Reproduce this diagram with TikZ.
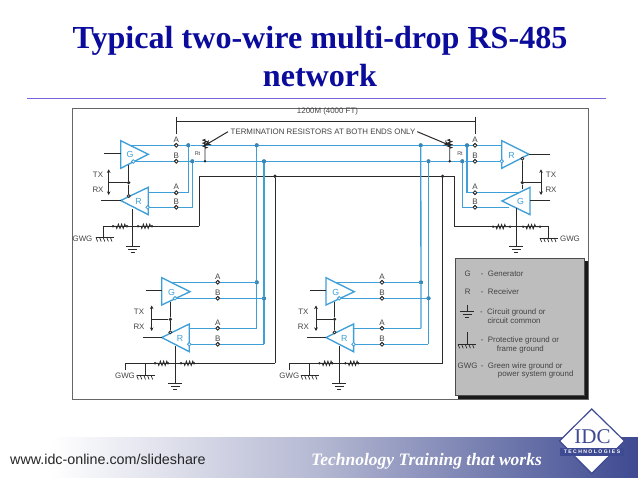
\documentclass[tikz,border=0pt]{standalone}
\usepackage{fontspec}
\setmainfont{Liberation Sans}
\newfontfamily\tms{Liberation Serif}
\usetikzlibrary{arrows.meta}
\definecolor{wireblue}{HTML}{3F9FD8}
\definecolor{wireblack}{HTML}{2A2A2A}
\definecolor{txtgrey}{HTML}{444444}
\definecolor{titleblue}{HTML}{0B0B9C}
\definecolor{rulepurple}{HTML}{7B62E0}
\definecolor{footmid}{HTML}{B4B8D2}
\definecolor{footdark}{HTML}{3E4A91}
\definecolor{legendgrey}{HTML}{BDBDBD}
\pgfdeclarehorizontalshading{footshade}{100bp}{color(0bp)=(white); color(29bp)=(white); color(50bp)=(footmid); color(75bp)=(footdark); color(100bp)=(footdark)}
\tikzset{
  blue wire/.style={draw=wireblue,line width=1.35pt},
  black wire/.style={draw=wireblack,line width=1pt},
  amp/.style={draw=wireblue,line width=1.35pt,line join=miter},
  term/.style={circle,draw=wireblack,fill=white,line width=0.8pt,inner sep=0pt,minimum size=3.6pt},
  pin/.style={circle,draw=wireblue,fill=white,line width=0.8pt,inner sep=0pt,minimum size=3.6pt},
  pinb/.style={circle,draw=wireblack,fill=white,line width=0.8pt,inner sep=0pt,minimum size=3pt},
  bdot/.style={circle,fill=wireblue!85!black,inner sep=0pt,minimum size=4pt},
  kdot/.style={circle,fill=wireblack,inner sep=0pt,minimum size=3.6pt},
  lbl/.style={text=txtgrey,font=\fontsize{7.9}{8}\selectfont,inner sep=0pt},
  lblw/.style={lbl,anchor=west},
  amptxt/.style={text=wireblue,font=\fontsize{8.8}{9}\selectfont,inner sep=0pt},
  dbl/.style={black wire,{Stealth[length=3.6pt,width=3.6pt]}-{Stealth[length=3.6pt,width=3.6pt]}},
  lead/.style={black wire,-{Stealth[length=6pt,width=5.5pt]}},
}
\newcommand{\earth}[1]{%
  \draw[black wire] ([xshift=-7pt]#1) -- ([xshift=7pt]#1);
  \draw[black wire] ([xshift=-4.5pt,yshift=-3pt]#1) -- ([xshift=4.5pt,yshift=-3pt]#1);
  \draw[black wire] ([xshift=-2pt,yshift=-6pt]#1) -- ([xshift=2pt,yshift=-6pt]#1);}
\newcommand{\comb}[1]{%
  \draw[black wire,line width=.8pt] ([xshift=0pt]#1) -- ([xshift=18pt]#1);
  \foreach \k in {0,3.6,...,18}{\draw[black wire,line width=.7pt] ([xshift=\k pt]#1) -- ([xshift=\k pt+1.6pt,yshift=-4pt]#1);}}
\newcommand{\hres}[2]{%
  \node[kdot,minimum size=2.6pt] at (#1) {};\node[kdot,minimum size=2.6pt] at (#2) {};
  \draw[black wire,line width=.8pt] (#1) -- ([xshift=3pt]#1) -- ++(0.8,2.2) -- ++(1.6,-4.4) -- ++(1.6,4.4) -- ++(1.6,-4.4) -- ++(1.6,4.4) -- ++(1.6,-4.4) -- ++(0.8,2.2) -- (#2);}
\newcommand{\vres}[2]{%
  \node[kdot,minimum size=2.8pt] at (#1) {};\node[kdot,minimum size=2.8pt] at (#2) {};
  \draw[black wire,line width=.8pt] (#1) -- ([yshift=-3pt]#1) -- ++(2.2,-.7) -- ++(-4.4,-1.5) -- ++(4.4,-1.5) -- ++(-4.4,-1.5) -- ++(4.4,-1.5) -- ++(-4.4,-1.5) -- ++(2.2,-.7) -- (#2);}
\begin{document}
\begin{tikzpicture}[x=1pt,y=-1pt]
\useasboundingbox (0,0) rectangle (638,478);
\fill[white] (0,0) rectangle (638,478);
\shade[shading=footshade] (0,438) rectangle (638,478);
\node[text=titleblue,font=\tms\bfseries\fontsize{32.1}{38}\selectfont,align=center,inner sep=0pt] (title) at (320,57) {Typical two-wire multi-drop RS-485\\network};
\coordinate (ruleL) at (27,98.3); \coordinate (ruleR) at (606,98.3);
\draw[rulepurple,line width=1.1pt] (ruleL) -- (ruleR);
\draw[draw=black!60,line width=1pt,fill=white] (72.3,108.3) rectangle (588,400);
\node[anchor=west,text=black!85,font=\fontsize{14.3}{16}\selectfont,inner sep=0pt] (url) at (10,459) {www.idc-online.com/slideshare};
\node[anchor=west,text=white,font=\tms\bfseries\itshape\fontsize{17.5}{20}\selectfont,inner sep=0pt] (slogan) at (311,461) {Technology Training that works};
\draw[draw=footdark,line width=1.2pt,fill=white] (591.7,409) -- (624.5,441) -- (591.7,473.5) -- (559.5,441) -- cycle;
\fill[footdark] (560,448) rectangle (624,456.5);
\node[text=footdark,font=\tms\fontsize{21}{21}\selectfont,inner sep=0pt] (idc) at (592.5,437) {IDC};
\node[text=white,font=\bfseries\fontsize{5.1}{6}\selectfont,inner sep=0pt] (tech) at (592,452.2) {T E C H N O L O G I E S};
\node[term] (tA1) at (176.3,145.3) {};
\node[term] (tB1) at (176.3,161.3) {};
\node[term] (tA2) at (176.3,192.7) {};
\node[term] (tB2) at (176.3,207.3) {};
\node[term] (tA3) at (475,145.3) {};
\node[term] (tB3) at (475,161.3) {};
\node[term] (tA4) at (475,192.7) {};
\node[term] (tB4) at (475,207.3) {};
\coordinate (spanL) at (176.3,122); \coordinate (spanR) at (475,122);
\coordinate (spanLt) at (176.3,116.7); \coordinate (spanRt) at (475,116.7);
\coordinate (spanLb) at (176.3,134); \coordinate (spanRb) at (475,134);
\draw[black wire] (spanLt) -- (spanLb);
\draw[black wire] (spanRt) -- (spanRb);
\draw[black wire] (spanL) -- (spanR);
\node[lbl] (span) at (327.5,111) {1200M (4000 FT)};
\node[lbl] (term) at (323,132) {TERMINATION RESISTORS AT BOTH ENDS ONLY};
\coordinate (G1a) at (120.7,140.7); \coordinate (G1b) at (120.7,168.3); \coordinate (G1t) at (148.3,154.3);
\coordinate (R1a) at (148.3,187.3); \coordinate (R1b) at (148.3,214.7); \coordinate (R1t) at (120.7,200.5);
\coordinate (R2a) at (501.7,140.7); \coordinate (R2b) at (501.7,168.3); \coordinate (R2t) at (529,154.3);
\coordinate (G2a) at (530,187.3); \coordinate (G2b) at (530,214.7); \coordinate (G2t) at (502,201);
\node[bdot] (A1) at (188.3,145.3) {}; \node[bdot] (B1) at (192.3,161.3) {};
\node[bdot] (A2) at (256.7,145.3) {}; \node[bdot] (B2) at (264,161.3) {};
\node[bdot] (A3) at (420.7,145.3) {}; \node[bdot] (B3) at (428.5,161.3) {};
\node[bdot] (A4) at (467,145.3) {}; \node[bdot] (B4) at (462.3,161.3) {};
\node[bdot] (A5) at (256.7,282.3) {}; \node[bdot] (B5) at (264,298.3) {};
\node[bdot] (A6) at (421,282.3) {}; \node[bdot] (B6) at (428.5,298.3) {};
\coordinate (A5e) at (256.7,328.3); \coordinate (B5e) at (264,344.3);
\coordinate (A6e) at (421,328.3); \coordinate (B6e) at (428.5,344.3);
\coordinate (gL) at (199,176.3); \coordinate (gLb) at (199,226.3);
\coordinate (gR) at (454.3,176.3); \coordinate (gRb) at (454.3,226.7);
\node[kdot] (g1) at (275,176.3) {}; \node[kdot] (g2) at (442.5,176.3) {};
\coordinate (g1b) at (275,363.3); \coordinate (g2b) at (442.5,363.3);
\draw[black wire] (g1) -- (g1b);
\draw[black wire] (g2) -- (g2b);
\draw[black wire] (gLb) -- (gL) -- (gR) -- (gRb);
\draw[blue wire] (130,145.3) -- (tA1) -- (A1) -- (A2) -- (A3) -- (A4) -- (tA3) -- (501.7,145.3);
\draw[blue wire] (133.3,161.3) -- (tB1) -- (B1) -- (B2) -- (B3) -- (B4) -- (tB3) -- (501.7,161.3);
\draw[blue wire] (A1) |- (tA2) -- (148.3,192.7);
\draw[blue wire] (B1) |- (tB2) -- (148,207.3);
\draw[blue wire] (A4) |- (tA4) -- (520,192.7);
\draw[blue wire] (B4) |- (tB4) -- (509,207.3);
\draw[blue wire] (A2) -- (A5) -- (A5e);
\draw[blue wire] (B2) -- (B5) -- (B5e);
\draw[blue wire] (A3) -- (A6) -- (A6e);
\draw[blue wire] (B3) -- (B6) -- (B6e);
\foreach \n in {tA1,tB1,tA2,tB2,tA3,tB3,tA4,tB4}{\node[term] at (\n) {};}
\foreach \n in {A1,B1,A2,B2,A3,B3,A4,B4,A5,B5,A6,B6}{\node[bdot] at (\n) {};}
\foreach \n/\t in {tA1/A,tB1/B,tA2/A,tB2/B,tA3/A,tB3/B,tA4/A,tB4/B}{\node[lbl,font=\fontsize{8}{8}\selectfont] at ([yshift=6pt]\n) {\t};}
\coordinate (r1a) at (205,145.3); \coordinate (r1b) at (205,161.3);
\coordinate (r2a) at (449.7,145.3); \coordinate (r2b) at (449.7,161.3);
\vres{r1a}{r1b}
\vres{r2a}{r2b}
\node[lbl,font=\fontsize{5.5}{5.5}\selectfont] (rt1) at (197.5,154) {Rt};
\node[lbl,font=\fontsize{5.5}{5.5}\selectfont] (rt2) at (460,154) {Rt};
\coordinate (ld1) at (228,131.7); \coordinate (ld2) at (417.3,131.7);
\draw[lead] (ld1) -- (r1a);
\draw[lead] (ld2) -- (r2a);
\draw[amp] (G1a) -- (G1t) -- (G1b) -- cycle;
\draw[amp] (R1a) -- (R1t) -- (R1b) -- cycle;
\node[amptxt] (g1l) at (130,154.5) {G};
\node[amptxt] (r1l) at (138.5,201) {R};
\node[pin] (p1) at (133.3,161.5) {};
\node[pin] (p2) at (147.7,207.3) {};
\node[pinb] (p3) at (128.7,196) {};
\coordinate (Gi1) at (104.3,154); \coordinate (Ro1) at (101,200.5);
\draw[black wire] (Gi1) -- (120.7,154);
\draw[black wire] (Ro1) -- (R1t);
\node[kdot] (j1) at (128.7,182.7) {};
\coordinate (ar1) at (108.7,182.7);
\draw[black wire] (128.7,165.2) -- (j1) -- (p3);
\draw[black wire] (j1) -- (ar1);
\draw[dbl] (108.7,169.3) -- (108.7,195);
\node[lbl] (tx1) at (98,175) {TX};
\node[lbl] (rx1) at (98,190) {RX};
\coordinate (e1) at (132.7,246.7);
\draw[black wire] (132.7,209.5) -- (e1);
\earth{e1}
\coordinate (w1) at (103.7,226.3); \coordinate (w1a) at (113,226.3); \coordinate (w1b) at (127,226.3); \coordinate (w1c) at (138,226.3); \coordinate (w1d) at (152,226.3);
\draw[black wire] (w1) -- (gLb);
\hres{w1a}{w1b}
\hres{w1c}{w1d}
\coordinate (c1) at (96,237.5);
\draw[black wire] (w1) -- (103.7,237.5);
\comb{c1}
\node[lbl] (gwg1) at (82.5,238.5) {GWG};
\draw[amp] (R2a) -- (R2t) -- (R2b) -- cycle;
\draw[amp] (G2a) -- (G2t) -- (G2b) -- cycle;
\node[amptxt] (r2l) at (511.5,155) {R};
\node[amptxt] (g2l) at (520.5,201.5) {G};
\node[pin] (p4) at (501.7,161.3) {};
\node[pinb] (p6) at (522.3,158.7) {};
\coordinate (Ro2) at (550,154.3); \coordinate (Gi2) at (550,201);
\draw[black wire] (R2t) -- (Ro2);
\draw[black wire] (Gi2) -- (530,201);
\node[kdot] (j2) at (522.3,182.7) {};
\coordinate (ar2) at (541,182.7);
\draw[black wire] (p6) -- (j2) -- (522.3,189.5);
\draw[black wire] (j2) -- (ar2);
\draw[dbl] (541,169.3) -- (541,195);
\node[lbl] (tx2) at (551,175) {TX};
\node[lbl] (rx2) at (551,190) {RX};
\coordinate (e2) at (516.3,246.7);
\draw[black wire] (516.3,208.5) -- (e2);
\earth{e2}
\coordinate (w2) at (548.7,226.7); \coordinate (w2a) at (493,226.7); \coordinate (w2b) at (510,226.7); \coordinate (w2c) at (523,226.7); \coordinate (w2d) at (540,226.7);
\draw[black wire] (gRb) -- (w2) -- (548.7,238);
\hres{w2a}{w2b}
\hres{w2c}{w2d}
\coordinate (c2) at (540,238);
\comb{c2}
\node[lbl] (gwg2) at (570,239) {GWG};
\foreach \dx/\wr/\pre in {0/275/L,164.3/278.4/M}{
\begin{scope}[shift={(\dx,0)}]
  \coordinate (\pre Ga) at (161.7,277.7); \coordinate (\pre Gb) at (161.7,305); \coordinate (\pre Gt) at (190,291.7);
  \coordinate (\pre Ra) at (189.3,324); \coordinate (\pre Rb) at (189.3,351.7); \coordinate (\pre Rt) at (161.7,337.5);
  \node[term] (\pre tA) at (217.7,282.3) {};
  \node[term] (\pre tB) at (217.7,298.3) {};
  \node[term] (\pre tC) at (217.7,328.3) {};
  \node[term] (\pre tD) at (217.7,344.3) {};
  \coordinate (\pre As) at (171,282.3); \coordinate (\pre Ae) at (256.7,282.3);
  \coordinate (\pre Bs) at (175,298.3); \coordinate (\pre Be) at (264,298.3);
  \coordinate (\pre Cs) at (189.3,328.3); \coordinate (\pre Ce) at (256.7,328.3);
  \coordinate (\pre Ds) at (189.3,344.3); \coordinate (\pre De) at (264,344.3);
  \draw[blue wire] (\pre As) -- (\pre Ae);
  \draw[blue wire] (\pre Bs) -- (\pre Be);
  \draw[blue wire] (\pre Cs) -- (\pre Ce);
  \draw[blue wire] (\pre Ds) -- (\pre De);
  \foreach \n/\t in {tA/A,tB/B,tC/A,tD/B}{\node[term] at (\pre\n) {}; \node[lbl,font=\fontsize{8}{8}\selectfont] at ([yshift=6pt]\pre\n) {\t};}
  \draw[amp] (\pre Ga) -- (\pre Gt) -- (\pre Gb) -- cycle;
  \draw[amp] (\pre Ra) -- (\pre Rt) -- (\pre Rb) -- cycle;
  \node[amptxt] (\pre gl) at (171.5,292) {G};
  \node[amptxt] (\pre rl) at (180,338) {R};
  \node[pin] (\pre p1) at (175,298.3) {};
  \node[pin] (\pre p2) at (189.3,344.3) {};
  \node[pinb] (\pre p3) at (170.3,332.3) {};
  \coordinate (\pre Gi) at (145.7,291); \coordinate (\pre Ro) at (142.7,337.5);
  \draw[black wire] (\pre Gi) -- (161.7,291);
  \draw[black wire] (\pre Ro) -- (\pre Rt);
  \node[kdot] (\pre j) at (170.3,319.3) {};
  \coordinate (\pre ar) at (151.7,319.3);
  \draw[black wire] (170.3,301.7) -- (\pre j) -- (\pre p3);
  \draw[black wire] (\pre j) -- (\pre ar);
  \draw[dbl] (151.7,305.5) -- (151.7,331);
  \node[lbl] (\pre tx) at (139,312) {TX};
  \node[lbl] (\pre rx) at (139,327) {RX};
  \coordinate (\pre e) at (175,383.3);
  \draw[black wire] (175,346) -- (\pre e);
  \earth{\pre e}
  \coordinate (\pre w) at (125,363.3);
  \coordinate (\pre wr) at (\wr,363.3);
  \coordinate (\pre ra) at (155,363.3); \coordinate (\pre rb) at (168,363.3);
  \coordinate (\pre rc) at (181,363.3); \coordinate (\pre rd) at (194,363.3);
  \draw[black wire] (\pre w) -- (\pre wr);
  \hres{\pre ra}{\pre rb}
  \hres{\pre rc}{\pre rd}
  \draw[black wire] (\pre w) -- (125,370);
  \coordinate (\pre cj) at (145,363.3); \coordinate (\pre c) at (136.7,375.5);
  \draw[black wire] (\pre cj) -- (145,375.5);
  \comb{\pre c}
  \node[lbl] (\pre gwg) at (125,375.5) {GWG};
\end{scope}}
\fill[black!90] (458,261) rectangle (588,399);
\draw[draw=black!70,line width=.8pt,fill=legendgrey] (455,258.3) rectangle (584.3,395.7);
\node[lbl] (lg1) at (467.7,274) {G};
\node[lblw] (lg1t) at (480.7,274) {-\ \ Generator};
\node[lbl] (lg2) at (467.7,291.3) {R};
\node[lblw] (lg2t) at (480.7,291.3) {-\ \ Receiver};
\coordinate (le1) at (467,312);
\coordinate (le1t) at (467,305);
\draw[black wire] (le1t) -- (le1);
\earth{le1}
\node[lblw] (lg3a) at (480,312.7) {-\ \ Circuit ground or};
\node[lblw] (lg3b) at (487.3,321) {circuit common};
\coordinate (lc1) at (458,344.3);
\coordinate (lc1t) at (467,331.7);
\draw[black wire] (lc1t) -- (467,344.3);
\comb{lc1}
\node[lblw] (lg4a) at (480.7,340.7) {-\ \ Protective ground or};
\node[lblw] (lg4b) at (496.7,349) {frame ground};
\node[lblw] (lg5) at (457.5,366) {GWG};
\node[lblw] (lg5a) at (480.7,366) {-\ \ Green wire ground or};
\node[lblw] (lg5b) at (497.7,374.3) {power system ground};
\end{tikzpicture}
\end{document}
